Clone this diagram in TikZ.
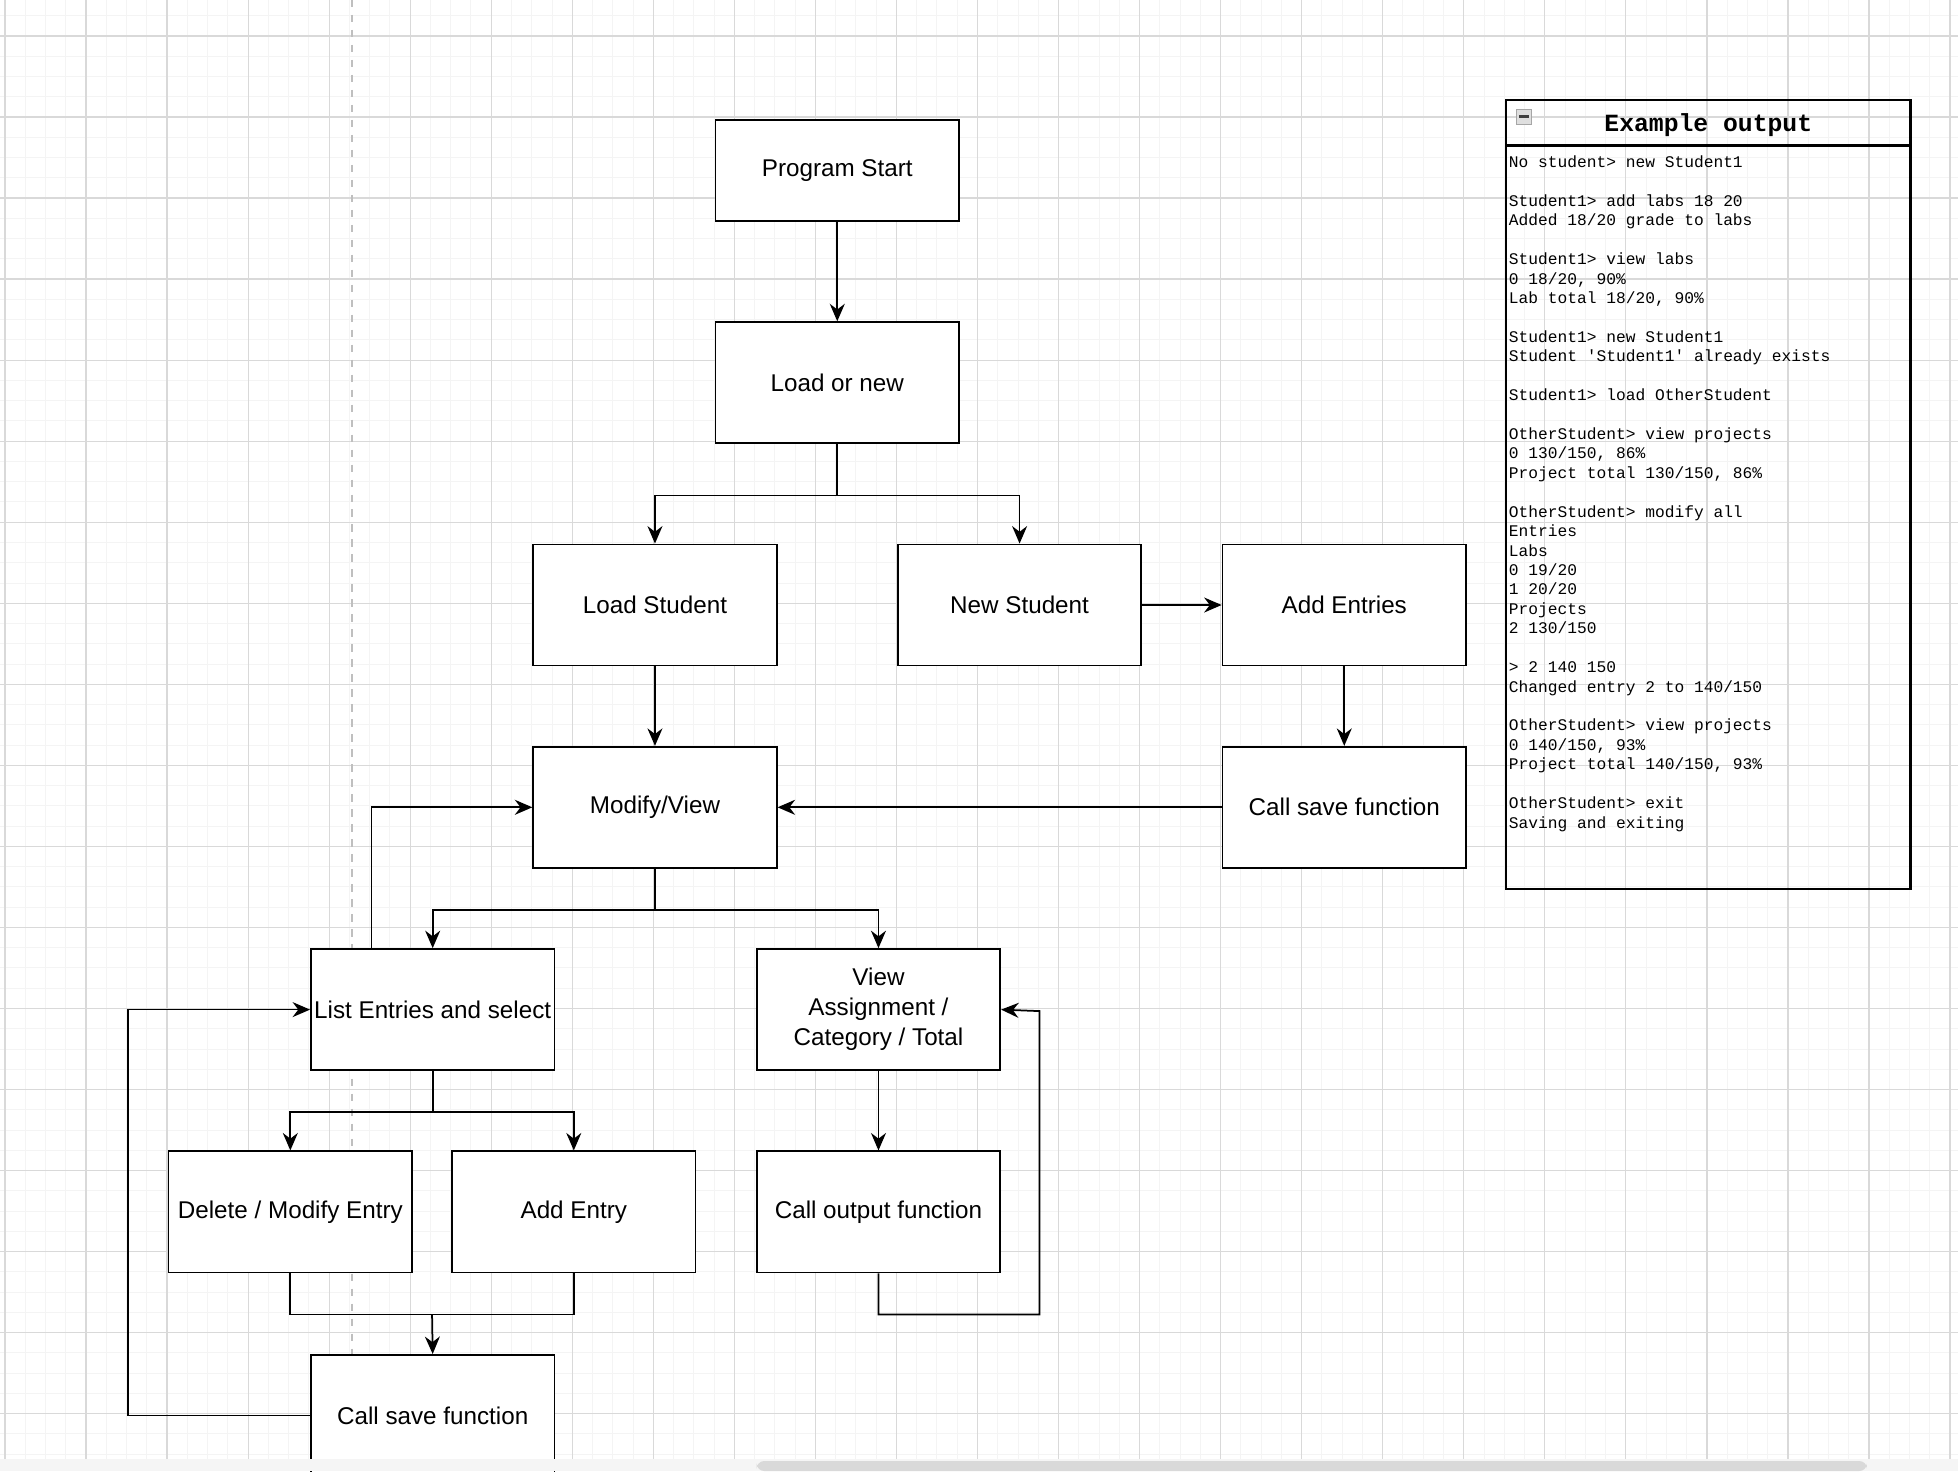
\documentclass[tikz,border=0pt]{standalone}
\usepackage{fontspec}
\setmainfont{Liberation Sans}
\newfontfamily\monof{Liberation Mono}
\usetikzlibrary{arrows.meta,calc}
\begin{document}
\begin{tikzpicture}[x=0.5pt,y=-0.5pt,
  box/.style={draw=black,fill=white,line width=0.7pt,minimum width=97.5pt,minimum height=48.5pt,inner sep=1pt,align=center,font=\fontsize{9.7}{12}\selectfont},
  arr/.style={line width=0.7pt,-{Stealth[length=7pt,width=6pt]}},
  ln/.style={line width=0.7pt}]
\useasboundingbox (0,0) rectangle (1568,1178);
\fill[white] (0,0) rectangle (1568,1178);
% grid
\foreach \k in {-1,...,100}{
  \draw[gray!9,line width=0.4pt] ({4+16.225*\k},0) -- ({4+16.225*\k},1178);
}
\foreach \k in {-2,...,75}{
  \draw[gray!9,line width=0.4pt] (0,{28.8+16.225*\k}) -- (1568,{28.8+16.225*\k});
}
\foreach \k in {0,...,24}{
  \draw[gray!30,line width=0.5pt] ({4+64.9*\k},0) -- ({4+64.9*\k},1178);
}
\foreach \k in {-1,...,18}{
  \draw[gray!30,line width=0.5pt] (0,{28.8+64.9*\k}) -- (1568,{28.8+64.9*\k});
}
\draw[gray!50,line width=0.8pt,dash pattern=on 3pt off 3pt] (282,0) -- (282,1090);
% boxes
\node[box,minimum height=40.5pt] (ps) at (670.5,136.5) {Program Start};
\node[box] (lon) at (670.5,306.5) {Load or new};
\node[box] (ls) at (524.5,484.5) {Load Student};
\node[box] (ns) at (816.5,484.5) {New Student};
\node[box] (ae) at (1076.5,484.5) {Add Entries};
\node[box] (mv) at (524.5,646.5) {Modify/View};
\node[box] (cs1) at (1076.5,646.5) {Call save function};
\node[box] (le) at (346.5,808.5) {List Entries and select};
\node[box] (va) at (703.5,808.5) {View\\Assignment /\\Category / Total};
\node[box] (dm) at (232.5,970.5) {Delete / Modify Entry};
\node[box] (ad) at (459.5,970.5) {Add Entry};
\node[box] (co) at (703.5,970.5) {Call output function};
\node[box] (cs2) at (346.5,1133.5) {Call save function};
% connectors
\draw[arr] (ps) -- (lon);
\draw[arr] (lon.south) -- ++(0,41) -| (ls.north);
\draw[arr] (lon.south) -- ++(0,41) -| (ns.north);
\draw[arr] (ns) -- (ae);
\draw[arr] (ls) -- (mv);
\draw[arr] (ae) -- (cs1);
\draw[arr] (cs1) -- (mv);
\draw[arr] (mv.south) -- ++(0,33) -| (le.north);
\draw[arr] (mv.south) -- ++(0,33) -| (va.north);
\coordinate (lt) at ($(le.north west)!0.25!(le.north east)$);
\draw[arr] (lt) |- (mv.west);
\draw[arr] (le.south) -- ++(0,33) -| (dm.north);
\draw[arr] (le.south) -- ++(0,33) -| (ad.north);
\draw[ln] (dm.south) -- ++(0,33) -| (ad.south);
\coordinate (jn) at ($(dm.south)!0.5!(ad.south)+(0,33)$);
\draw[arr] (jn) -- (cs2.north);
\draw[arr] (cs2.west) -- ++(-146,0) |- (le.west);
\draw[arr] (va) -- (co);
\draw[arr] (co.south) -- ++(0,33) -| ++(129,-243) -- (va.east);
% example output panel
\draw[line width=0.9pt] (1206,80) rectangle (1530,712);
\draw[line width=0.9pt] (1206,116.5) -- (1530,116.5);
\fill[gray!70] (1214,87) rectangle (1227,100);
\fill[gray!25] (1215,88) rectangle (1226,99);
\draw[black!75,line width=1.2pt] (1216.5,93.5) -- (1224.5,93.5);
\node[font=\monof\bfseries\fontsize{9.9}{12}\selectfont] (eo) at (1368,100) {Example output};
\foreach \t [count=\i from 0] in {
{No student> new Student1},{},{Student1> add labs 18 20},{Added 18/20 grade to labs},{},
{Student1> view labs},{0 18/20, 90\%},{Lab total 18/20, 90\%},{},
{Student1> new Student1},{Student 'Student1' already exists},{},
{Student1> load OtherStudent},{},
{OtherStudent> view projects},{0 130/150, 86\%},{Project total 130/150, 86\%},{},
{OtherStudent> modify all},{Entries},{Labs},{0 19/20},{1 20/20},{Projects},{2 130/150},{},
{> 2 140 150},{Changed entry 2 to 140/150},{},
{OtherStudent> view projects},{0 140/150, 93\%},{Project total 140/150, 93\%},{},
{OtherStudent> exit},{Saving and exiting}}{
  \node[anchor=west,inner sep=0pt,font=\monof\fontsize{6.5}{7.8}\selectfont] (l\i) at (1208,{131+15.56*\i}) {\strut\t};
}
% bottom scroll strip
\fill[gray!8] (0,1168) rectangle (1568,1178);
\fill[gray!30,rounded corners=3pt] (606,1170) rectangle (1495,1178);
\end{tikzpicture}
\end{document}
